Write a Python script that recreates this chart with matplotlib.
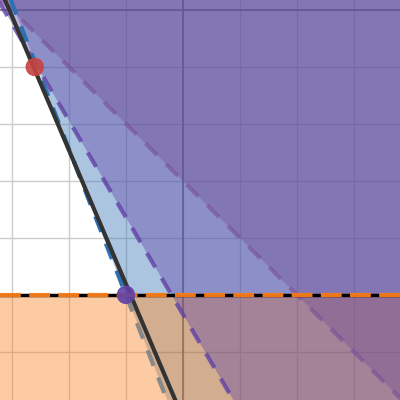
import numpy as np
import matplotlib.pyplot as plt

# lines as (slope, intercept)
black_line = (-2.35, -7.16)
blue_line = (-2.56, -7.56)
steep_purple = (-1.7, -5.34)
flat_purple = (-1.0, -3.0)
y_floor = -5.0
points_x = [-2.6, -1.0]
points_y = [-1.0, -5.0]
point_colors = ['#c74440', '#6042a6']

xmin, xmax = -3.21, 3.81
ymax = 0.175
ymin = ymax - (xmax - xmin)

fig = plt.figure(figsize=(4, 4), dpi=100)
ax = fig.add_axes([0, 0, 1, 1])
ax.set_xlim(xmin, xmax)
ax.set_ylim(ymin, ymax)

for v in np.arange(-3, 4):
    ax.axvline(v, color='#cccccc', lw=1, zorder=0)
for v in np.arange(-6, 1):
    ax.axhline(v, color='#cccccc', lw=1, zorder=0)
ax.axvline(0, color='#777777', lw=1.2, zorder=0)
ax.axhline(0, color='#777777', lw=1.2, zorder=0)

xs = np.linspace(xmin - 1, xmax + 1, 500)


def line(p):
    return p[0] * xs + p[1]


# orange: below y=-5
ax.fill_between(xs, ymin - 1, y_floor, color='#fa7e19', alpha=0.4, lw=0)
# blue: right of blue line, above floor
yu = np.linspace(y_floor, ymax + 1, 200)
ax.fill_betweenx(yu, (yu - blue_line[1]) / blue_line[0], xmax + 1,
                 color='#2d70b3', alpha=0.4, lw=0)
# grey: right of line, below floor
yy = np.linspace(ymin - 1, y_floor, 200)
ax.fill_betweenx(yy, (yy - blue_line[1]) / blue_line[0], xmax + 1,
                 color='#555555', alpha=0.25, lw=0)
# purples
ax.fill_between(xs, line(steep_purple), ymax + 10, color='#6042a6', alpha=0.4, lw=0)
ax.fill_between(xs, line(flat_purple), ymax + 10, color='#704a90', alpha=0.35, lw=0)

ax.plot(xs, line(steep_purple), color='#6042a6', lw=3, ls=(0, (4, 3)), alpha=0.8)
ax.plot(xs, line(flat_purple), color='#7a4f9a', lw=3, ls=(0, (4, 3)), alpha=0.6)
above = line(blue_line) >= y_floor
ax.plot(xs[above], line(blue_line)[above], color='#2d70b3', lw=3, ls=(0, (4, 3)))
ax.plot(xs[~above], line(blue_line)[~above], color='#888888', lw=3, ls=(0, (4, 3)))
ax.plot(xs, line(black_line), color='#333333', lw=3)
ax.axhline(y_floor, color='black', lw=2.5)
ax.axhline(y_floor, color='#fa7e19', lw=3, ls=(0, (5, 2)), alpha=0.95)

ax.scatter(points_x, points_y, s=150, c=point_colors, alpha=0.9, zorder=5)

ax.set_axis_off()
fig.savefig('out.png', dpi=100)
